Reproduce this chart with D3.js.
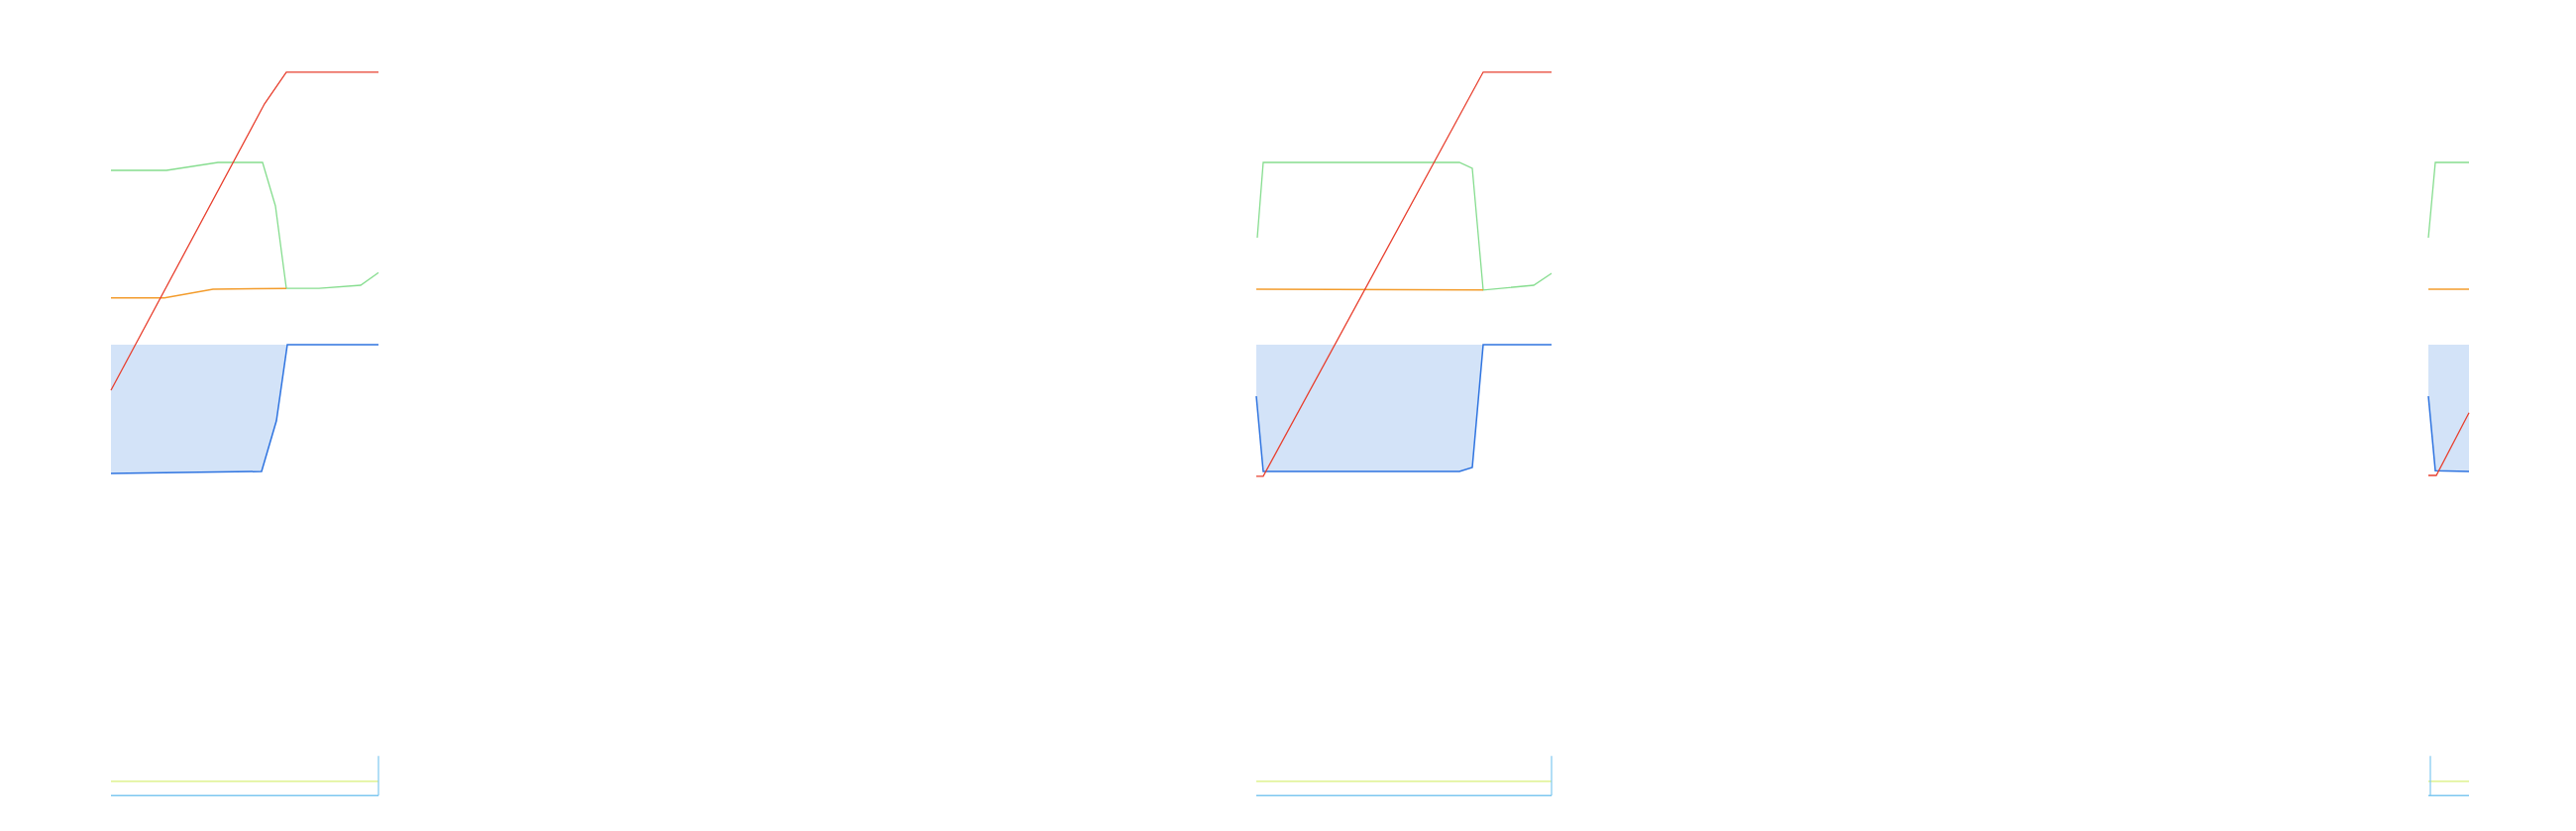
<!DOCTYPE html>
<html><head><meta charset="utf-8">
<script src="https://cdn.jsdelivr.net/npm/d3@7"></script>
<style>body{margin:0;background:#fff}</style>
</head><body>
<svg id="chart" width="2600" height="839"></svg>
<script>
// three visible windows of the same signal, [t, value]
var redSeries = [
  [[112, 50.75], [267, 86.9], [289, 90.9], [382, 90.9]],
  [[1268, 39.9], [1275, 39.9], [1497, 90.9], [1566, 90.9]],
  [[2451, 40], [2459, 40], [2492, 47.9]]
];
var greenSeries = [
  [[112, 78.5], [168, 78.5], [220, 79.5], [265, 79.5], [278, 74], [289, 63.6], [322, 63.6], [364, 64], [382, 65.6]],
  [[1269, 70], [1275, 79.5], [1473, 79.5], [1486, 78.75], [1497, 63.4], [1548, 64], [1566, 65.5]],
  [[2451, 70], [2458, 79.5], [2492, 79.5]]
];
var orangeSeries = [
  [[112, 62.4], [166, 62.4], [215, 63.5], [289, 63.6]],
  [[1268, 63.5], [1497, 63.4]],
  [[2451, 63.5], [2492, 63.5]]
];
var blueSeries = [
  [[112, 40.25], [264, 40.5], [279, 46.9], [290, 56.5], [382, 56.5]],
  [[1268, 50], [1275, 40.5], [1473, 40.5], [1486, 41], [1497, 56.5], [1566, 56.5]],
  [[2451, 50], [2458, 40.6], [2492, 40.5]]
];
var fillTop = 56.5;
var baseSeries = [[112, 382], [1268, 1566], [2451, 2492]];
var limeLevel = 1.4, skyLevel = -0.4, skyTop = 4.6;
var skyEdge = [382, 1566, 2453];

var svg = d3.select("#chart");
var x = d3.scaleLinear().domain([0, 2600]).range([0, 2600]);
var y = d3.scaleLinear().domain([0, 100]).range([800, 0]);

var line = d3.line().x(function (d) { return x(d[0]); }).y(function (d) { return y(d[1]); });
var area = d3.area().x(function (d) { return x(d[0]); })
  .y0(function () { return y(fillTop); }).y1(function (d) { return y(d[1]); });

blueSeries.forEach(function (s) {
  svg.append("path").attr("d", area(s)).attr("fill", "#d3e3f8");
});

function drawLines(series, color, w) {
  series.forEach(function (s) {
    svg.append("path").attr("d", line(s)).attr("fill", "none")
      .attr("stroke", color).attr("stroke-width", w);
  });
}
drawLines(greenSeries, "#86dd8f", 1.3);
drawLines(orangeSeries, "#f39c2c", 1.5);
drawLines(blueSeries, "#2f74e0", 1.5);
drawLines(redSeries, "#e8402f", 1.3);

baseSeries.forEach(function (r) {
  svg.append("path").attr("d", line([[r[0], limeLevel], [r[1], limeLevel]]))
    .attr("stroke", "#d8ef78").attr("stroke-width", 1.2).attr("fill", "none");
  svg.append("path").attr("d", line([[r[0], skyLevel], [r[1], skyLevel]]))
    .attr("stroke", "#7ec8f0").attr("stroke-width", 1.6).attr("fill", "none");
});
skyEdge.forEach(function (t) {
  svg.append("path").attr("d", line([[t, skyLevel], [t, skyTop]]))
    .attr("stroke", "#7ec8f0").attr("stroke-width", 1.2).attr("fill", "none");
});
</script>
</body></html>
